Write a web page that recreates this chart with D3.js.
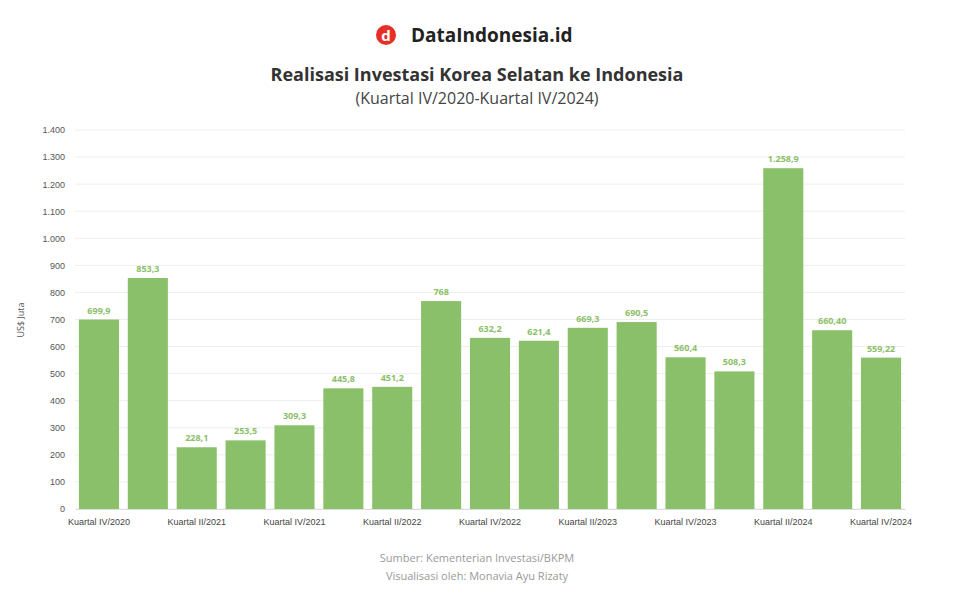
<!DOCTYPE html>
<html><head><meta charset="utf-8">
<script src="https://cdn.jsdelivr.net/npm/d3@7"></script>
<style>body{margin:0;background:#fff;font-family:"Source Sans Pro","Open Sans",sans-serif}</style>
</head><body><svg id="c" width="954" height="596"></svg>
<script>
const categories=["Kuartal IV/2020","Kuartal I/2021","Kuartal II/2021","Kuartal III/2021","Kuartal IV/2021","Kuartal I/2022","Kuartal II/2022","Kuartal III/2022","Kuartal IV/2022","Kuartal I/2023","Kuartal II/2023","Kuartal III/2023","Kuartal IV/2023","Kuartal I/2024","Kuartal II/2024","Kuartal III/2024","Kuartal IV/2024"];
const values=[699.9,853.3,228.1,253.5,309.3,445.8,451.2,768,632.2,621.4,669.3,690.5,560.4,508.3,1258.9,660.40,559.22];
const valueLabels=["699,9","853,3","228,1","253,5","309,3","445,8","451,2","768","632,2","621,4","669,3","690,5","560,4","508,3","1.258,9","660,40","559,22"];
const yTicks=[0,100,200,300,400,500,600,700,800,900,1000,1100,1200,1300,1400];
const svg=d3.select("#c");
const m={l:75,r:905,t:130,b:509};
const x=d3.scaleBand().domain(categories).range([m.l,m.r]).paddingInner(0.18).paddingOuter(0.08);
const y=d3.scaleLinear().domain([0,1400]).range([m.b,m.t]);
const fmt=v=>d3.format(",")(v).replace(/,/g,".");
const g0=svg.append("g");
g0.append("circle").attr("cx",386).attr("cy",35).attr("r",10).attr("fill","#e63027");
g0.append("text").attr("x",386).attr("y",41).attr("text-anchor","middle").attr("fill","#fff").attr("font-size",15).attr("font-weight",700).text("d");
g0.append("text").attr("x",411).attr("y",42).attr("font-size",19).attr("font-weight",700).attr("fill","#222").text("DataIndonesia.id");
svg.append("text").attr("x",477).attr("y",81).attr("text-anchor","middle").attr("font-size",18).attr("font-weight",700).attr("fill","#333").text("Realisasi Investasi Korea Selatan ke Indonesia");
svg.append("text").attr("x",477).attr("y",104).attr("text-anchor","middle").attr("font-size",16).attr("fill","#444").text("(Kuartal IV/2020-Kuartal IV/2024)");
svg.append("g").selectAll("line").data(yTicks).join("line").attr("x1",m.l).attr("x2",m.r).attr("y1",d=>y(d)).attr("y2",d=>y(d)).attr("stroke","#eee");
svg.append("g").attr("transform",`translate(${m.l},0)`).call(d3.axisLeft(y).tickValues(yTicks).tickFormat(fmt).tickSize(0).tickPadding(10))
 .call(g=>g.select(".domain").remove()).selectAll("text").attr("font-size",9).attr("fill","#555");
svg.append("text").attr("transform","translate(24,320) rotate(-90)").attr("text-anchor","middle").attr("font-size",9).attr("fill","#555").text("US$ Juta");
svg.append("g").selectAll("rect").data(values).join("rect").attr("x",(d,i)=>x(categories[i])).attr("width",x.bandwidth()).attr("y",d=>y(d)).attr("height",d=>y(0)-y(d)).attr("fill","#8bc06a");
svg.append("g").selectAll("text").data(values).join("text").attr("x",(d,i)=>x(categories[i])+x.bandwidth()/2).attr("y",d=>y(d)-6).attr("text-anchor","middle").attr("font-size",9).attr("font-weight",700).attr("fill","#8bc06a").text((d,i)=>valueLabels[i]);
svg.append("g").attr("transform",`translate(0,${m.b})`).call(d3.axisBottom(x).tickSize(0).tickPadding(10).tickFormat((d,i)=>i%2===0?d:""))
 .call(g=>g.select(".domain").attr("stroke","#ddd")).selectAll("text").attr("font-size",9).attr("fill","#444");
svg.append("text").attr("x",477).attr("y",562).attr("text-anchor","middle").attr("font-size",11).attr("fill","#999").text("Sumber: Kementerian Investasi/BKPM");
svg.append("text").attr("x",477).attr("y",580).attr("text-anchor","middle").attr("font-size",11).attr("fill","#999").text("Visualisasi oleh: Monavia Ayu Rizaty");
</script></body></html>
